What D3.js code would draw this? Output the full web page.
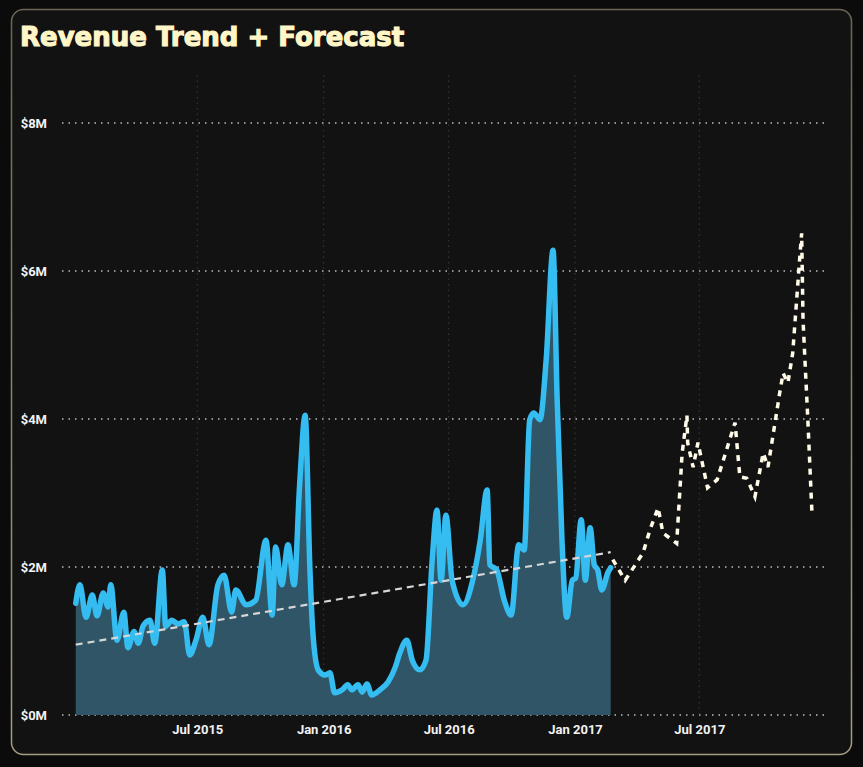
<!DOCTYPE html>
<meta charset="utf-8">
<style>
body{margin:0;background:#0b0b0b;}
svg{display:block;font-family:"Roboto","DejaVu Sans",sans-serif;}
</style>
<script src="https://d3js.org/d3.v7.min.js"></script>
<svg id="chart"></svg>
<script>
// data: days after 2015-01-01, revenue in $M
var actualDays = [4,10,19,28,35,44,51,55,64,74,80,89,95,102,112,119,130,135,144,153,162,170,179,189,198,211,220,231,237,252,266,281,290,295,304,313,322,330,338,345,349,357,367,374,381,392,400,406,415,421,428,435,447,459,469,476,486,494,505,514,523,530,536,543,552,568,582,593,603,607,617,628,638,649,657,665,671,680,689,699,705,712,719,727,732,740,746,753,759,764,770,779,783];
var actualVals = [1.51,1.76,1.32,1.62,1.34,1.65,1.46,1.76,1.01,1.39,0.91,1.13,0.97,1.2,1.28,0.97,1.96,1.2,1.28,1.23,1.26,0.81,1.01,1.32,0.95,1.76,1.89,1.39,1.69,1.49,1.55,2.36,1.35,2.27,1.76,2.30,1.76,3.11,4.05,1.96,1.15,0.61,0.54,0.57,0.30,0.34,0.41,0.34,0.41,0.31,0.42,0.27,0.34,0.45,0.64,0.84,1.01,0.74,0.61,0.74,2.09,2.77,1.82,2.70,1.82,1.49,1.82,2.36,3.04,2.03,1.96,1.55,1.35,2.30,2.23,3.99,4.08,3.99,4.80,6.28,4.26,2.36,1.32,1.82,1.85,2.64,1.82,2.53,2.03,1.96,1.69,1.93,1.99];
var forecastDays = [786,804,830,840,852,859,879,887,894,895,903,910,924,938,964,971,981,993,1005,1012,1029,1034,1041,1048,1058,1061,1063,1070,1076];
var forecastVals = [2.1,1.82,2.19,2.5,2.8,2.46,2.32,3.54,4.05,3.68,3.35,3.68,3.07,3.18,3.95,3.22,3.2,2.95,3.54,3.35,4.35,4.62,4.49,4.89,6.15,6.51,5.34,3.99,2.73];
var trendDays = [4,783];
var trendVals = [0.95,2.2];
var yTicks = [0,2,4,6,8];
var xTicks = ["2015-07-01","2016-01-01","2016-07-01","2017-01-01","2017-07-01"];

var W = 863, H = 767;
var base = new Date(2015,0,1);
function toDate(d){ return d3.timeDay.offset(base, d); }
var actual = actualDays.map((d,i)=>({date:toDate(d), v:actualVals[i]}));
var forecast = forecastDays.map((d,i)=>({date:toDate(d), v:forecastVals[i]}));
var trend = trendDays.map((d,i)=>({date:toDate(d), v:trendVals[i]}));

var svg = d3.select("#chart").attr("width", W).attr("height", H);

// card
var defs = svg.append("defs");
var g1 = defs.append("linearGradient").attr("id","bord").attr("x1",0).attr("y1",0).attr("x2",0).attr("y2",1);
g1.append("stop").attr("offset","0%").attr("stop-color","#6a6656");
g1.append("stop").attr("offset","100%").attr("stop-color","#a49d80");
svg.append("rect").attr("x",11.5).attr("y",9.5).attr("width",840).attr("height",745)
  .attr("rx",12).attr("fill","#121212").attr("stroke","url(#bord)").attr("stroke-width",1.5);

svg.append("text").attr("x",20).attr("y",46).text("Revenue Trend + Forecast")
  .attr("fill","#fff6c8").attr("stroke","#fff6c8").attr("stroke-width",1.1)
  .attr("font-family","'DejaVu Sans',sans-serif")
  .attr("font-weight","bold").attr("font-size",26);

var x = d3.scaleTime().domain([new Date(2015,0,1), new Date(2017,11,31)]).range([73, 825]);
var y = d3.scaleLinear().domain([0,8]).range([715,123]);

// grid
svg.append("g").selectAll("line").data(yTicks).join("line")
  .attr("x1",62).attr("x2",826).attr("y1",d=>y(d)).attr("y2",d=>y(d))
  .attr("stroke","#bdbdbd").attr("stroke-width",1.3).attr("stroke-dasharray","1.5,5");
svg.append("g").selectAll("line").data(xTicks).join("line")
  .attr("x1",d=>x(new Date(d))).attr("x2",d=>x(new Date(d)))
  .attr("y1",75).attr("y2",715)
  .attr("stroke","#3a3a3a").attr("stroke-width",1).attr("stroke-dasharray","1.5,4");

// axes labels
var yAxis = svg.append("g").attr("transform","translate(50,0)")
  .call(d3.axisLeft(y).tickValues(yTicks).tickSize(0).tickFormat(d=>"$"+d+"M"));
var xAxis = svg.append("g").attr("transform","translate(0,715)")
  .call(d3.axisBottom(x).tickValues(xTicks.map(d=>new Date(d))).tickSize(0).tickPadding(10)
  .tickFormat(d3.timeFormat("%b %Y")));
[yAxis,xAxis].forEach(a=>{
  a.select(".domain").remove();
  a.selectAll("text").attr("fill","#f2f2f2").attr("font-size",13).attr("font-weight","bold")
    .attr("font-family","'Roboto','DejaVu Sans',sans-serif");
});

// area + line
svg.append("path").datum(actual)
  .attr("d", d3.area().x(d=>x(d.date)).y0(y(0)).y1(d=>y(d.v)).curve(d3.curveMonotoneX))
  .attr("fill","#2f5566");
svg.append("path").datum(actual)
  .attr("d", d3.line().x(d=>x(d.date)).y(d=>y(d.v)).curve(d3.curveMonotoneX))
  .attr("fill","none").attr("stroke","#35bdf2").attr("stroke-width",5.5)
  .attr("stroke-linejoin","round").attr("stroke-linecap","round");

// trend
svg.append("path").datum(trend)
  .attr("d", d3.line().x(d=>x(d.date)).y(d=>y(d.v)))
  .attr("fill","none").attr("stroke","#d6d6d6").attr("stroke-width",2.2).attr("stroke-dasharray","7,5");

// forecast
svg.append("path").datum(forecast)
  .attr("d", d3.line().x(d=>x(d.date)).y(d=>y(d.v)))
  .attr("fill","none").attr("stroke","#fffbe8").attr("stroke-width",3.5).attr("stroke-dasharray","6,6");
</script>
